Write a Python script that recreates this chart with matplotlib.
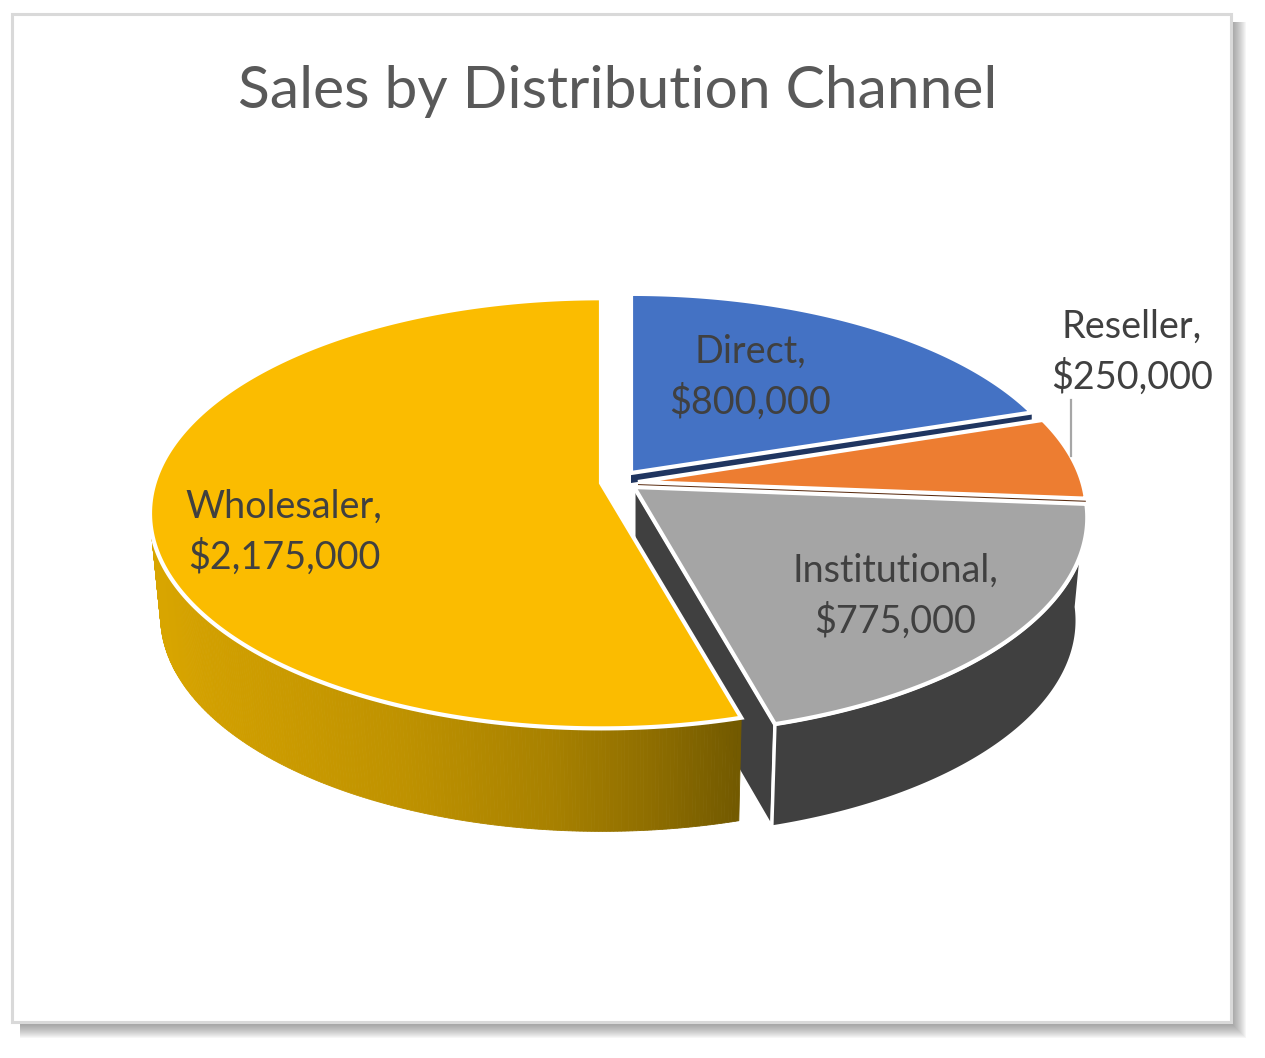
import numpy as np
import matplotlib
matplotlib.use("Agg")
import matplotlib.pyplot as plt
from matplotlib.patches import Rectangle, Polygon

# ---- data ----
categories = ["Direct", "Reseller", "Institutional", "Wholesaler"]
sales = [800000, 250000, 775000, 2175000]
title_text = "Sales by Distribution Channel"

# ---- style ----
top_colors = ["#4472C4", "#ED7D31", "#A5A5A5", "#FBBC00"]
wall_colors = ["#1F3560", "#5A2C10", "#404040", "#735A00"]
apexes = [(631, 473), (638, 482), (634, 487), (601, 483)]
slice_scale = [(0.975, 0.955), (0.985, 0.98), (0.995, 0.995), (0.99, 0.985)]
label_xy = [(750, 377), (1132, 352), (895, 596), (284, 532)]
RX, RY, PERSP = 451.0, 214.0, 0.141
DEPTH, SHRINK, VX = 103.0, 0.978, 632.0
plt.rcParams["font.family"] = ["Lato", "DejaVu Sans"]

fig = plt.figure(figsize=(12.65, 10.58), dpi=100)
ax = fig.add_axes([0, 0, 1, 1])
ax.set_xlim(0, 1265)
ax.set_ylim(1058, 0)
ax.axis("off")


def rim(theta, i):
    """Project clockwise-from-north angle (deg) on to the tilted disc."""
    t = np.radians(theta)
    n, e = np.cos(t), np.sin(t)
    d = 1 + PERSP * n
    sx, sy = slice_scale[i]
    return apexes[i][0] + sx * RX * e / d, apexes[i][1] - sy * RY * n / d


def lower(x, y, depth=DEPTH, shrink=SHRINK):
    return VX + (np.asarray(x) - VX) * shrink, np.asarray(y) + depth


# frame + soft shadow
for k in range(15):
    ax.add_patch(Rectangle((20, 22), 1212 + k, 1002 + k, fc="#606060",
                           ec="none", alpha=0.05, zorder=0))
ax.add_patch(Rectangle((12, 14), 1219, 1008, fc="white", ec="#D9D9D9", lw=2.2, zorder=1))

# slice angles from the values
fractions = np.array(sales) / np.sum(sales)
edges = np.concatenate([[0], np.cumsum(fractions) * 360])
z = 2


def cut_wall(theta, i, depth, shrink, edge):
    global z
    rx, ry = rim(theta, i)
    bx, by = lower([apexes[i][0], rx], [apexes[i][1], ry], depth, shrink)
    ax.add_patch(Polygon([apexes[i], (rx, ry), (bx[1], by[1]), (bx[0], by[0])],
                         fc=wall_colors[i], ec=edge, lw=2.2, zorder=z, joinstyle="miter"))
    z += 1


def top_face(i):
    global z
    th = np.linspace(edges[i], edges[i + 1], 200)
    x, y = rim(th, i)
    pts = np.vstack([[apexes[i]], np.column_stack([x, y])])
    ax.add_patch(Polygon(pts, closed=True, fc=top_colors[i], ec="white", lw=3,
                         zorder=z, joinstyle="miter"))
    z += 1


# back slices: only a sliver of each cut face shows
cut_wall(edges[1], 0, 10, 1.0, "none")
top_face(0)
cut_wall(edges[2], 1, 8, 1.0, "none")
top_face(1)

# institutional: inner cut wall, outer wall, top
cut_wall(edges[3], 2, DEPTH, SHRINK, "white")
th = np.linspace(edges[2], edges[3], 200)
x, y = rim(th, 2)
bx, by = lower(x, y)
ax.add_patch(Polygon(np.vstack([np.column_stack([x, y]),
                                np.column_stack([bx, by])[::-1]]),
                     fc=wall_colors[2], ec="white", lw=2.5, zorder=z))
z += 1
top_face(2)

# wholesaler: outer wall with horizontal gradient, then top
stop_x = [160, 200, 400, 550, 650, 737]
stop_rgb = np.array([[0xD8, 0xA5, 0x00], [0xD2, 0xA0, 0x00], [0xBF, 0x92, 0x00],
                     [0xA8, 0x81, 0x00], [0x8F, 0x6E, 0x00], [0x73, 0x5A, 0x00]]) / 255
th = np.linspace(edges[3], edges[3] + 135, 320)
x, y = rim(th, 3)
bx, by = lower(x, y)
for j in range(len(th) - 1):
    mx = 0.5 * (x[j] + x[j + 1])
    col = [np.interp(mx, stop_x, stop_rgb[:, c]) for c in range(3)]
    ax.add_patch(Polygon([(x[j], y[j]), (x[j + 1], y[j + 1]),
                          (bx[j + 1], by[j + 1]), (bx[j], by[j])],
                         fc=col, ec=col, lw=0.6, zorder=z))
z += 1
top_face(3)

# texts
ax.text(618, 91, title_text, ha="center", va="center", fontsize=42.3,
        color="#595959", zorder=z)
for c, v, (lx, ly) in zip(categories, sales, label_xy):
    ax.text(lx, ly, f"{c},\n${v:,}", ha="center", va="center", fontsize=27.2,
            color="#404040", linespacing=1.45, zorder=z)
ax.plot([1071, 1071], [400, 456], color="#A6A6A6", lw=1.6, zorder=z)

fig.savefig("out.png", dpi=100)
